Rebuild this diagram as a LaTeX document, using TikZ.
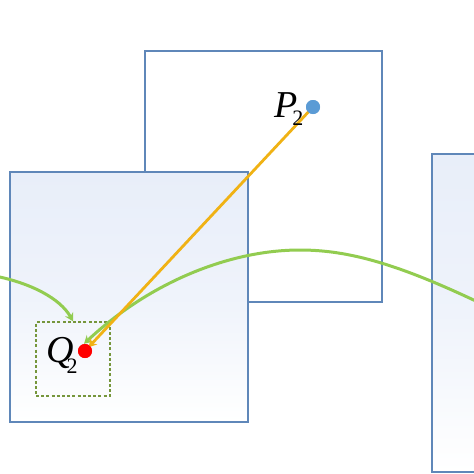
\documentclass[tikz,border=0pt]{standalone}
\usepackage{fontspec}
\setmainfont{Liberation Serif}
\usetikzlibrary{arrows.meta}
\definecolor{boxblue}{RGB}{95,135,185}
\definecolor{shadeblue}{RGB}{232,238,249}
\definecolor{lgreen}{RGB}{146,204,80}
\definecolor{dgreen}{RGB}{118,150,60}
\definecolor{ayellow}{RGB}{240,178,20}
\definecolor{pblue}{RGB}{91,155,213}
\tikzset{
  frame/.style={draw=boxblue, line width=1.5pt},
  gframe/.style={frame, top color=shadeblue, bottom color=white, middle color=white!30!shadeblue},
  gcurve/.style={draw=lgreen, line width=3pt, -{Stealth[length=8pt,width=9pt]}},
  yarrow/.style={draw=ayellow, line width=2.8pt, -{Stealth[length=8pt,width=9pt]}},
  dotnode/.style={circle, inner sep=0pt, minimum size=14pt},
  lbl/.style={inner sep=0pt, anchor=base west, font=\fontsize{38}{38}\selectfont\itshape},
}
\newcommand{\subtwo}[2]{\kern#1\raisebox{#2}{\fontsize{22}{22}\selectfont\upshape 2}}
\begin{document}
\begin{tikzpicture}[x=1pt,y=-1pt]
\useasboundingbox (0,0) rectangle (474,474);
\fill[white] (0,0) rectangle (474,474);
% boxes
\draw[frame, fill=white] (145,51) rectangle (382,302);
\draw[gframe] (10,172) rectangle (248,422);
\draw[gframe] (432,154) rectangle (490,472);
% dashed window
\node[draw=dgreen, line width=1.4pt, dash pattern=on 3pt off 2.2pt, minimum width=74pt, minimum height=74pt, inner sep=0pt] (win) at (73,359) {};
% dots
\node[dotnode, fill=red] (qdot) at (85,351) {};
\node[dotnode, fill=pblue] (pdot) at (313,107) {};
\coordinate (lstart) at (-5,276);
\coordinate (rstart) at (480,303);
\coordinate (peak) at (300,250);
% curves
\draw[gcurve] (lstart) .. controls (30,283) and (60,298) .. (win.north);
\draw[gcurve] (rstart) .. controls (400,265) and (350,250) .. (peak) .. controls (230,250) and (150,282) .. ([xshift=-1pt]qdot.north);
\draw[yarrow, shorten >=-2pt] (pdot.center) -- (qdot);
% redraw dots on top
\fill[red] (qdot) circle (7pt);
\fill[pblue] (pdot) circle (7pt);
% labels
\node[lbl] (qlbl) at (46,362) {Q\subtwo{-7pt}{-11pt}};
\node[lbl] (plbl) at (274,117) {P\subtwo{-5pt}{-8pt}};
\end{tikzpicture}
\end{document}
